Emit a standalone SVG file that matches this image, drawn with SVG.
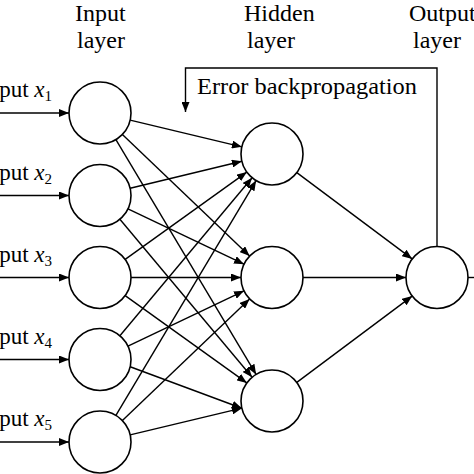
<svg xmlns="http://www.w3.org/2000/svg" width="474" height="474" viewBox="0 0 474 474">
<defs>
<marker id="ah" viewBox="0 0 10 8" refX="10" refY="4" markerWidth="10" markerHeight="8" markerUnits="userSpaceOnUse" orient="auto">
<path d="M0,0 L10,4 L0,8 Z" fill="#000"/>
</marker>
<style>
.n{fill:#fff;stroke:#000;stroke-width:1.6}
.c line,.c path{stroke:#000;stroke-width:1.4;fill:none;marker-end:url(#ah)}
.c path.nm{marker-end:none}
text{font-family:"Liberation Serif","Times New Roman",serif;font-size:24px;fill:#000}
.lab{font-size:23px}
.sub{font-size:15px}
</style>
</defs>
<rect width="474" height="474" fill="#fff"/>
<g id="titles">
<text x="75" y="21">Input</text>
<text x="77" y="48">layer</text>
<text x="244" y="21">Hidden</text>
<text x="247" y="48">layer</text>
<text x="409" y="21">Output</text>
<text x="413" y="48">layer</text>
</g>
<g class="c" id="connectors">
<line x1="0" y1="113" x2="69" y2="113"/>
<line x1="0" y1="195.5" x2="69" y2="195.5"/>
<line x1="0" y1="277.5" x2="69" y2="277.5"/>
<line x1="0" y1="359.5" x2="69" y2="359.5"/>
<line x1="0" y1="442" x2="69" y2="442"/>
<line x1="130.15" y1="120.19" x2="241.85" y2="146.81"/>
<line x1="122.40" y1="134.43" x2="249.60" y2="256.07"/>
<line x1="115.90" y1="139.62" x2="256.10" y2="374.38"/>
<line x1="130.13" y1="188.23" x2="241.87" y2="161.27"/>
<line x1="127.98" y1="208.84" x2="244.02" y2="264.16"/>
<line x1="119.90" y1="219.27" x2="252.10" y2="377.23"/>
<line x1="125.18" y1="259.42" x2="246.82" y2="172.08"/>
<line x1="131" y1="277.5" x2="241" y2="277.5"/>
<line x1="125.18" y1="295.58" x2="246.82" y2="382.92"/>
<line x1="119.90" y1="335.73" x2="252.10" y2="177.77"/>
<line x1="127.98" y1="346.16" x2="244.02" y2="290.84"/>
<line x1="130.13" y1="366.77" x2="241.87" y2="408.27"/>
<line x1="115.90" y1="415.38" x2="256.10" y2="180.62"/>
<line x1="122.40" y1="420.57" x2="249.60" y2="298.93"/>
<line x1="130.15" y1="434.81" x2="241.85" y2="408.19"/>
<line x1="296.82" y1="172.58" x2="412.18" y2="258.92"/>
<line x1="303" y1="277.5" x2="406" y2="277.5"/>
<line x1="296.82" y1="382.42" x2="412.18" y2="296.08"/>
<path d="M437,246.5 V68 H185.5 V112"/>
<path class="nm" d="M468,277.5 H474"/>
</g>
<g id="error-label"><text x="197" y="93.5" textLength="220" lengthAdjust="spacingAndGlyphs">Error backpropagation</text></g>
<g id="input-labels">
<text class="lab" x="52" y="97" text-anchor="end">Input <tspan font-style="italic">x</tspan><tspan class="sub" dy="4">1</tspan></text>
<text class="lab" x="52" y="179.5" text-anchor="end">Input <tspan font-style="italic">x</tspan><tspan class="sub" dy="4">2</tspan></text>
<text class="lab" x="52" y="261.5" text-anchor="end">Input <tspan font-style="italic">x</tspan><tspan class="sub" dy="4">3</tspan></text>
<text class="lab" x="52" y="343.5" text-anchor="end">Input <tspan font-style="italic">x</tspan><tspan class="sub" dy="4">4</tspan></text>
<text class="lab" x="52" y="426" text-anchor="end">Input <tspan font-style="italic">x</tspan><tspan class="sub" dy="4">5</tspan></text>
</g>
<g id="in1"><circle class="n" cx="100" cy="113" r="31"/></g>
<g id="in2"><circle class="n" cx="100" cy="195.5" r="31"/></g>
<g id="in3"><circle class="n" cx="100" cy="277.5" r="31"/></g>
<g id="in4"><circle class="n" cx="100" cy="359.5" r="31"/></g>
<g id="in5"><circle class="n" cx="100" cy="442" r="31"/></g>
<g id="h1"><circle class="n" cx="272" cy="154" r="31"/></g>
<g id="h2"><circle class="n" cx="272" cy="277.5" r="31"/></g>
<g id="h3"><circle class="n" cx="272" cy="401" r="31"/></g>
<g id="out"><circle class="n" cx="437" cy="277.5" r="31"/></g>
</svg>
